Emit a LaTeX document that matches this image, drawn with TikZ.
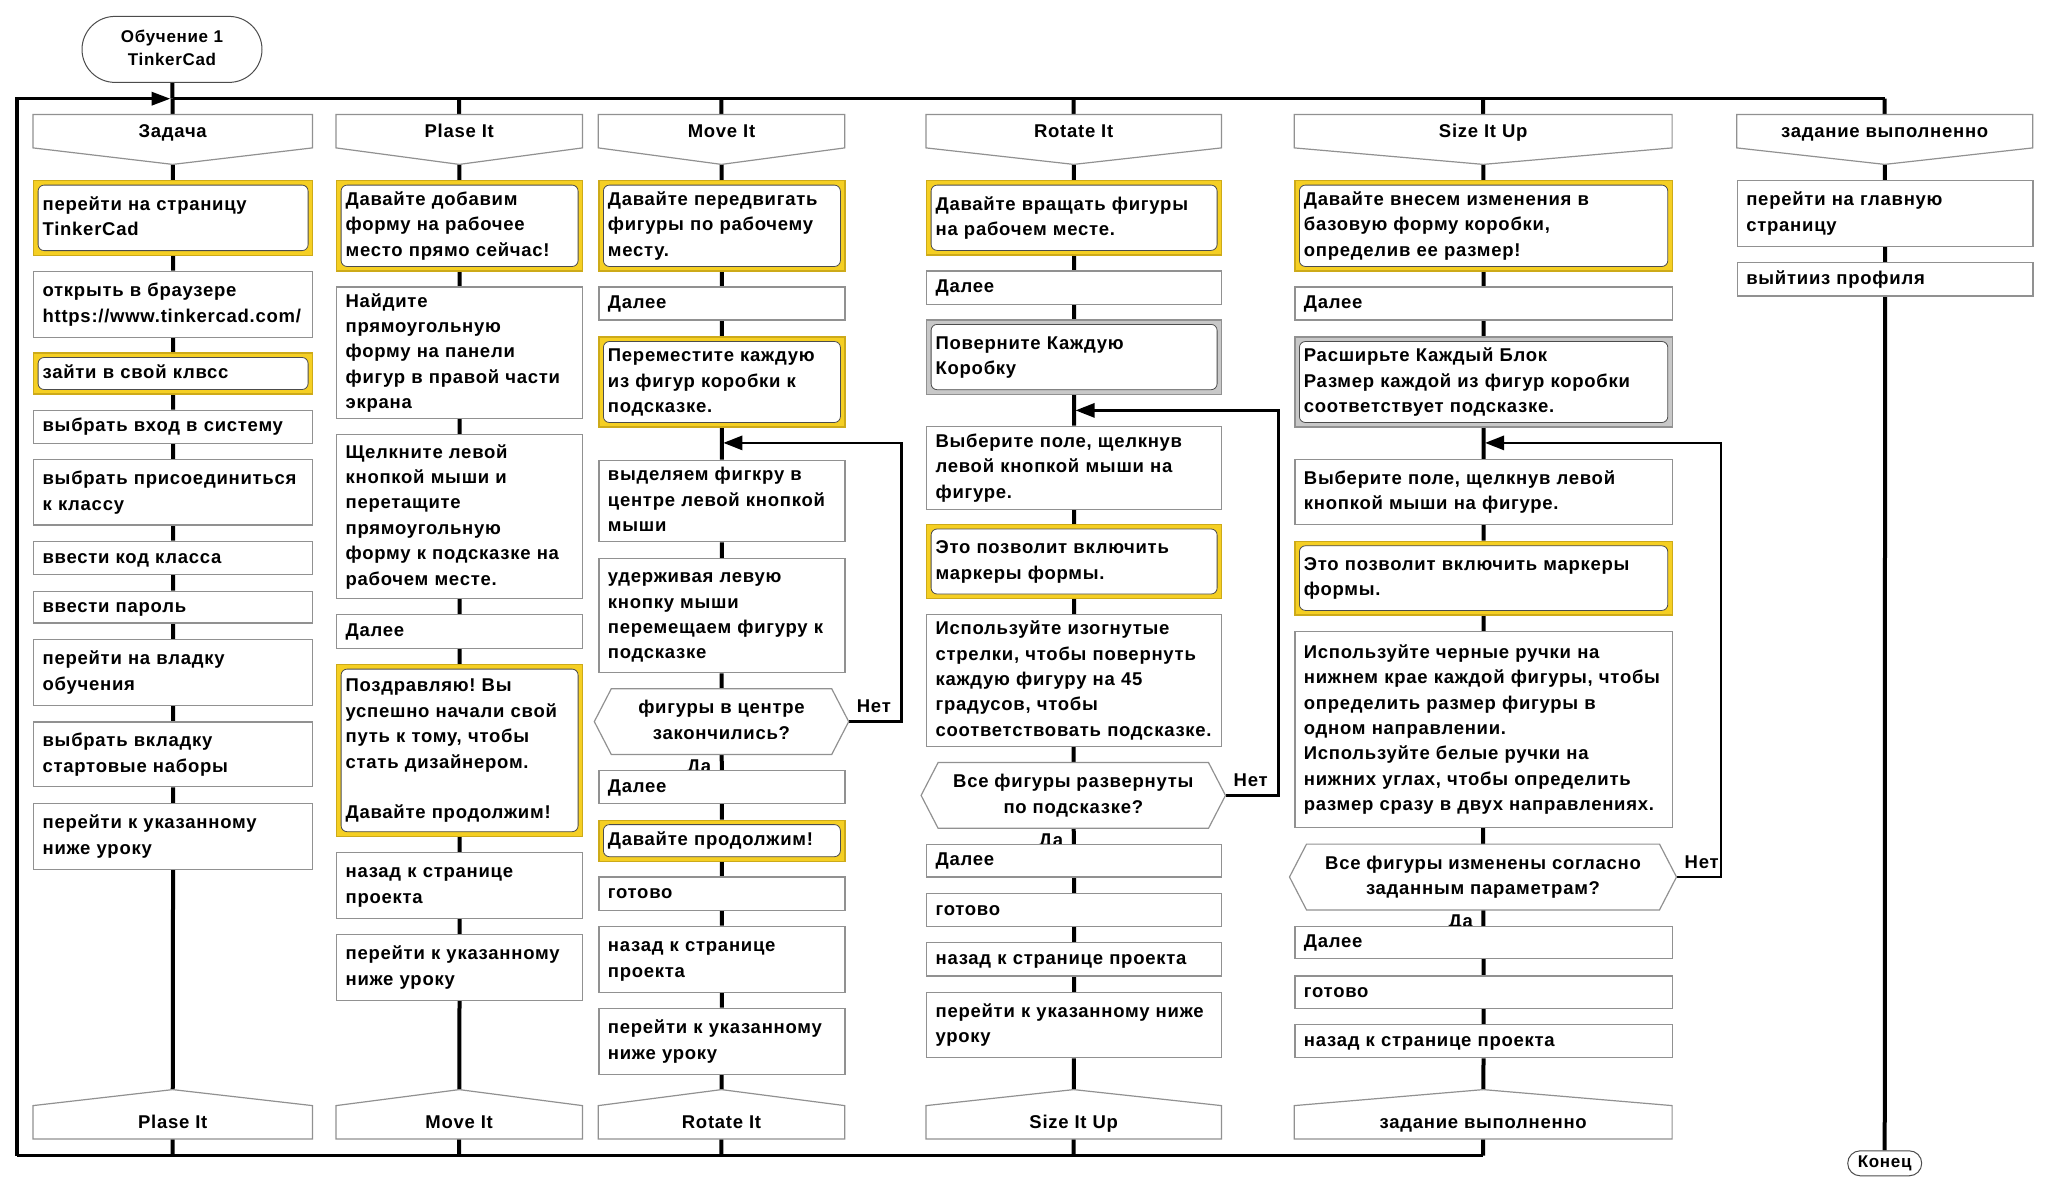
\documentclass[tikz,border=0pt]{standalone}
\usepackage{fontspec}
\setmainfont{Liberation Sans}[LetterSpace=4]
\usetikzlibrary{calc,arrows.meta,shapes.misc}
\pgfdeclarelayer{bg}\pgfdeclarelayer{mid}\pgfsetlayers{bg,mid,main}
\definecolor{yel}{RGB}{245,207,35}
\definecolor{yelb}{RGB}{205,170,25}
\definecolor{bord}{RGB}{145,145,145}
\definecolor{frm}{RGB}{200,200,200}
\newcommand\TL[1]{\begin{tabular}{@{}l@{}}#1\end{tabular}}
\newcommand\TC[1]{\begin{tabular}{@{}c@{}}#1\end{tabular}}
\tikzset{
 txt/.style={font=\frenchspacing\bfseries\fontsize{18.5}{25.4}\selectfont, text=black},
 pbox/.style={txt, draw=bord, line width=1.2pt, fill=white, inner xsep=9pt, inner ysep=0pt, align=left},
 innerr/.style={rounded corners=6pt, fill=white, draw=black!70, line width=0.8pt},
 ybox/.style={pbox, fill=yel, draw=yelb, path picture={\draw[innerr] ([shift={(4.5pt,-4.5pt)}]path picture bounding box.north west) rectangle ([shift={(-4.5pt,4.5pt)}]path picture bounding box.south east);}},
 gbox/.style={pbox, fill=frm, draw=bord, path picture={\draw[innerr] ([shift={(4.5pt,-4.5pt)}]path picture bounding box.north west) rectangle ([shift={(-4.5pt,4.5pt)}]path picture bounding box.south east);}},
 w1/.style={minimum width=279pt, text width=261pt},
 w2/.style={minimum width=246pt, text width=228pt},
 w4/.style={minimum width=295pt, text width=277pt},
 w5/.style={minimum width=377.4pt, text width=359.4pt},
 w6/.style={minimum width=295.6pt, text width=277.6pt},
 hdrtxt/.style={txt, inner sep=0pt, minimum height=33pt, text height=13pt, text depth=0pt, anchor=north west},
 dectxt/.style={txt, inner sep=0pt, minimum height=65.4pt, anchor=north},
 shp/.style={fill=white, draw=bord, line width=1.2pt},
 lbl/.style={txt, inner sep=0pt},
 term/.style={rounded rectangle, draw=black!70, line width=1pt, fill=white, inner sep=0pt, font=\bfseries\fontsize{17}{23.3}\selectfont},
 skewer/.style={line width=4pt, black},
 frameline/.style={line width=3.5pt, black},
 loopl/.style={line width=2.8pt, black, -{Triangle[length=19pt,width=14pt]}},
}
\newcommand\bx[6]{\node[#1,anchor=north west,minimum height=#5pt] (#2) at (#3,#4) {\TL{#6}};}
\newcommand\hdr[5]{\node[hdrtxt,minimum width=#3pt] (#1) at (#2,#4) {#5};
 \begin{pgfonlayer}{mid}\filldraw[shp] (#1.north west) -- (#1.north east) -- (#1.south east) -- ($(#1.south)+(0,16.5)$) -- (#1.south west) -- cycle;\end{pgfonlayer}}
\newcommand\ftr[5]{\node[hdrtxt,minimum width=#3pt] (#1) at (#2,#4) {#5};
 \begin{pgfonlayer}{mid}\filldraw[shp] (#1.south west) -- (#1.south east) -- (#1.north east) -- ($(#1.north)+(0,-16)$) -- (#1.north west) -- cycle;\end{pgfonlayer}}
\newcommand\dec[5]{\node[dectxt,minimum width=#4pt] (#1) at (#2,#3) {\TC{#5}};
 \begin{pgfonlayer}{mid}\filldraw[shp] (#1.north west) -- (#1.north east) -- ($(#1.east)+(17,0)$) -- (#1.south east) -- (#1.south west) -- ($(#1.west)+(-17,0)$) -- cycle;\end{pgfonlayer}}
\begin{document}
\begin{tikzpicture}[x=1pt,y=-1pt]
\useasboundingbox (0,0) rectangle (2048,1196);
% frame coordinates
\coordinate (t0) at (17,98.7);
\coordinate (u0) at (17,1155.5);
\coordinate (t1) at (172.5,98.7);
\coordinate (t1a) at (170.5,98.7);
\coordinate (t2) at (459,98.7);
\coordinate (t3) at (721.3,98.7);
\coordinate (t4) at (1073.5,98.7);
\coordinate (t5) at (1483,98.7);
\coordinate (t6) at (1884.5,98.7);
\coordinate (u1) at (172.5,1155.5);
\coordinate (u2) at (459,1155.5);
\coordinate (u3) at (721.3,1155.5);
\coordinate (u4) at (1073.5,1155.5);
\coordinate (u5) at (1483,1155.5);
% start
\node[term, minimum width=180pt, minimum height=66pt] (start) at (172,49.4) {\TC{Обучение 1\\TinkerCad}};
% column 1
\hdr{h1}{33}{279}{114.5}{Задача}
\bx{ybox,w1}{c1b1}{33}{180}{74.5}{перейти на страницу\\TinkerCad}
\bx{pbox,w1}{c1b2}{33}{270.5}{66.3}{открыть в браузере\\https://www.tinkercad.com/}
\bx{ybox,w1}{c1b3}{33}{352.4}{41}{зайти в свой клвсс}
\bx{pbox,w1}{c1b4}{33}{409.5}{33.2}{выбрать вход в систему}
\bx{pbox,w1}{c1b5}{33}{459.2}{65.1}{выбрать присоединиться\\к классу}
\bx{pbox,w1}{c1b6}{33}{540.7}{33.3}{ввести код класса}
\bx{pbox,w1}{c1b7}{33}{590.6}{31.8}{ввести пароль}
\bx{pbox,w1}{c1b8}{33}{638.9}{65.6}{перейти на владку\\обучения}
\bx{pbox,w1}{c1b9}{33}{721.4}{64.8}{выбрать вкладку\\стартовые наборы}
\bx{pbox,w1}{c1b10}{33}{803.1}{65.6}{перейти к указанному\\ниже уроку}
\ftr{f1}{33}{279}{1105.6}{Plase It}
% column 2
\hdr{h2}{336}{246}{114.5}{Plase It}
\bx{ybox,w2}{c2b1}{336}{180}{90.4}{Давайте добавим\\форму на рабочее\\место прямо сейчас!}
\bx{pbox,w2}{c2b2}{336}{286.4}{131.5}{Найдите\\прямоугольную\\форму на панели\\фигур в правой части\\экрана}
\bx{pbox,w2}{c2b3}{336}{433.9}{164}{Щелкните левой\\кнопкой мыши и\\перетащите\\прямоугольную\\форму к подсказке на\\рабочем месте.}
\bx{pbox,w2}{c2b4}{336}{614}{33.6}{Далее}
\bx{ybox,w2}{c2b5}{336}{664}{171.6}{Поздравляю! Вы\\успешно начали свой\\путь к тому, чтобы\\стать дизайнером.\\ \\Давайте продолжим!}
\bx{pbox,w2}{c2b6}{336}{852.2}{65.4}{назад к странице\\проекта}
\bx{pbox,w2}{c2b7}{336}{934}{65.5}{перейти к указанному\\ниже уроку}
\ftr{f2}{336}{246}{1105.6}{Move It}
% column 3
\hdr{h3}{598.3}{246}{114.5}{Move It}
\bx{ybox,w2}{c3b1}{598.3}{180}{90.4}{Давайте передвигать\\фигуры по рабочему\\месту.}
\bx{pbox,w2}{c3b2}{598.3}{286.4}{32.9}{Далее}
\bx{ybox,w2}{c3b3}{598.3}{336.4}{90}{Переместите каждую\\из фигур коробки к\\подсказке.}
\bx{pbox,w2}{c3b4}{598.3}{459.6}{81.5}{выделяем фигкру в\\центре левой кнопкой\\мыши}
\bx{pbox,w2}{c3b5}{598.3}{557.9}{114.3}{удерживая левую\\кнопку мыши\\перемещаем фигуру к\\подсказке}
\dec{c3d}{721.5}{688.7}{220}{фигуры в центре\\закончились?}
\node[lbl, anchor=base east] (c3yes) at ($(c3d.south)+(-10,17.5)$) {Да};
\node[lbl, anchor=base west] (c3no) at ($(c3d.east)+(25,-9)$) {Нет};
\bx{pbox,w2}{c3b6}{598.3}{769.9}{33.1}{Далее}
\bx{ybox,w2}{c3b7}{598.3}{819.5}{41.1}{Давайте продолжим!}
\bx{pbox,w2}{c3b8}{598.3}{876.4}{33.1}{готово}
\bx{pbox,w2}{c3b9}{598.3}{925.6}{66.2}{назад к странице\\проекта}
\bx{pbox,w2}{c3b10}{598.3}{1007.6}{66.1}{перейти к указанному\\ниже уроку}
\ftr{f3}{598.3}{246}{1105.6}{Rotate It}
% column 4
\hdr{h4}{926}{295}{114.5}{Rotate It}
\bx{ybox,w4}{c4b1}{926}{180}{74.3}{Давайте вращать фигуры\\на рабочем месте.}
\bx{pbox,w4}{c4b2}{926}{270.4}{33.2}{Далее}
\bx{gbox,w4}{c4b3}{926}{319.3}{74.3}{Поверните Каждую\\Коробку}
\bx{pbox,w4}{c4b4}{926}{425.7}{82.9}{Выберите поле, щелкнув\\левой кнопкой мыши на\\фигуре.}
\bx{ybox,w4}{c4b5}{926}{523.9}{74}{Это позволит включить\\маркеры формы.}
\bx{pbox,w4}{c4b6}{926}{614}{131.6}{Используйте изогнутые\\стрелки, чтобы повернуть\\каждую фигуру на 45\\градусов, чтобы\\соответствовать подсказке.}
\dec{c4d}{1073.3}{762.5}{270}{Все фигуры развернуты\\по подсказке?}
\node[lbl, anchor=base east] (c4yes) at ($(c4d.south)+(-10,18)$) {Да};
\node[lbl, anchor=base west] (c4no) at ($(c4d.east)+(25,-9)$) {Нет};
\bx{pbox,w4}{c4b7}{926}{844}{32.4}{Далее}
\bx{pbox,w4}{c4b8}{926}{893}{33}{готово}
\bx{pbox,w4}{c4b9}{926}{942.2}{33.1}{назад к странице проекта}
\bx{pbox,w4}{c4b10}{926}{991.8}{65.4}{перейти к указанному ниже\\уроку}
\ftr{f4}{926}{295}{1105.6}{Size It Up}
% column 5
\hdr{h5}{1294.3}{377.4}{114.5}{Size It Up}
\bx{ybox,w5}{c5b1}{1294.3}{180}{90.4}{Давайте внесем изменения в\\базовую форму коробки,\\определив ее размер!}
\bx{pbox,w5}{c5b2}{1294.3}{286.4}{32.9}{Далее}
\bx{gbox,w5}{c5b3}{1294.3}{336.4}{90}{Расширьте Каждый Блок\\Размер каждой из фигур коробки\\соответствует подсказке.}
\bx{pbox,w5}{c5b4}{1294.3}{458.9}{65}{Выберите поле, щелкнув левой\\кнопкой мыши на фигуре.}
\bx{ybox,w5}{c5b5}{1294.3}{540.7}{73.6}{Это позволит включить маркеры\\формы.}
\bx{pbox,w5}{c5b6}{1294.3}{631}{195.8}{Используйте черные ручки на\\нижнем крае каждой фигуры, чтобы\\определить размер фигуры в\\одном направлении.\\Используйте белые ручки на\\нижних углах, чтобы определить\\размер сразу в двух направлениях.}
\dec{c5d}{1483}{844.1}{352.6}{Все фигуры изменены согласно\\заданным параметрам?}
\node[lbl, anchor=base east] (c5yes) at ($(c5d.south)+(-10,18)$) {Да};
\node[lbl, anchor=base west] (c5no) at ($(c5d.east)+(25,-9)$) {Нет};
\bx{pbox,w5}{c5b7}{1294.3}{926}{32}{Далее}
\bx{pbox,w5}{c5b8}{1294.3}{975.3}{32.3}{готово}
\bx{pbox,w5}{c5b9}{1294.3}{1024}{33.2}{назад к странице проекта}
\ftr{f5}{1294.3}{377.4}{1105.6}{задание выполненно}
% column 6
\hdr{h6}{1736.7}{295.6}{114.5}{задание выполненно}
\bx{pbox,w6}{c6b1}{1736.7}{180}{66}{перейти на главную\\страницу}
\bx{pbox,w6}{c6b2}{1736.7}{262}{33.4}{выйтииз профиля}
\node[term, minimum width=74pt, minimum height=25pt] (end) at (1884.7,1163.3) {Конец};
% loop coordinates
\coordinate (c3lx) at (901.7,442.9);
\coordinate (c3la) at (723.3,442.9);
\coordinate (c4lx) at (1278.3,410.4);
\coordinate (c4la) at (1075.5,410.4);
\coordinate (c5lx) at (1721,442.9);
\coordinate (c5la) at (1485,442.9);
\begin{pgfonlayer}{bg}
\draw[frameline, -{Triangle[length=19pt,width=13pt]}] (u0) -- (t0) -- (t1a);
\draw[frameline] (t1) -- (t6);
\draw[frameline] (u0) -- (u5);
\draw[skewer] (start) -- (t1);
\draw[skewer] (t1) -- (h1) -- (c1b1) -- (c1b2) -- (c1b3) -- (c1b4) -- (c1b5) -- (c1b6) -- (c1b7) -- (c1b8) -- (c1b9) -- (c1b10) -- (f1) -- (u1);
\draw[skewer] (t2) -- (h2) -- (c2b1) -- (c2b2) -- (c2b3) -- (c2b4) -- (c2b5) -- (c2b6) -- (c2b7) -- (f2) -- (u2);
\draw[skewer] (t3) -- (h3) -- (c3b1) -- (c3b2) -- (c3b3) -- (c3b4) -- (c3b5) -- (c3d) -- (c3b6) -- (c3b7) -- (c3b8) -- (c3b9) -- (c3b10) -- (f3) -- (u3);
\draw[skewer] (t4) -- (h4) -- (c4b1) -- (c4b2) -- (c4b3) -- (c4b4) -- (c4b5) -- (c4b6) -- (c4d) -- (c4b7) -- (c4b8) -- (c4b9) -- (c4b10) -- (f4) -- (u4);
\draw[skewer] (t5) -- (h5) -- (c5b1) -- (c5b2) -- (c5b3) -- (c5b4) -- (c5b5) -- (c5b6) -- (c5d) -- (c5b7) -- (c5b8) -- (c5b9) -- (f5) -- (u5);
\draw[skewer] (t6) -- (h6) -- (c6b1) -- (c6b2) -- (end);
\draw[loopl] ($(c3d.east)+(17,0)$) -| (c3lx) -- (c3la);
\draw[loopl] ($(c4d.east)+(17,0)$) -| (c4lx) -- (c4la);
\draw[loopl] ($(c5d.east)+(17,0)$) -| (c5lx) -- (c5la);
\end{pgfonlayer}
\end{tikzpicture}
\end{document}
